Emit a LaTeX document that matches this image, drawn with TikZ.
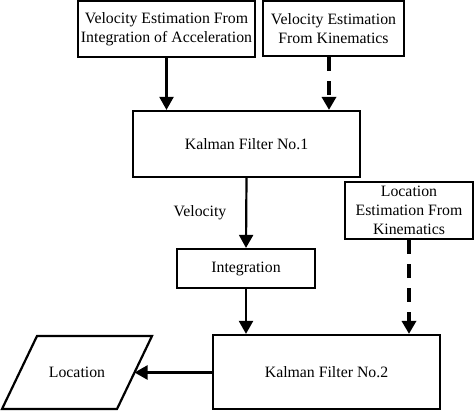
\documentclass[tikz,border=0pt]{standalone}
\usepackage{fontspec}
\setmainfont{Liberation Serif}
\usetikzlibrary{arrows.meta}

\begin{document}
\begin{tikzpicture}[x=1pt,y=-1pt,
		box_style/.style={draw=black,line width=2.2pt,align=center,inner sep=0pt,font=\fontsize{15.8}{19}\selectfont},
		io_style/.style={draw=black,line width=2.2pt,line join=miter},
		edge_style/.style={draw=black,line width=2.2pt,-{Triangle[length=13pt,width=14pt]}},
		dash_style/.style={edge_style,line width=3.5pt,dash pattern=on 14pt off 10pt}]
		
		\useasboundingbox (0,0) rectangle (474,410);
		
		\node[box_style,minimum width=177pt,minimum height=56pt] (vacc) at (166.5,29) {Velocity Estimation From\\Integration of Acceleration};
		\node[box_style,minimum width=141pt,minimum height=55pt] (vkin) at (333.5,28.5) {Velocity Estimation\\From Kinematics};
		\node[box_style,minimum width=227pt,minimum height=66pt] (kf1) at (246.5,144) {Kalman Filter No.1};
		\node[box_style,minimum width=128pt,minimum height=57pt] (lkin) at (409,210.5) {Location\\Estimation From\\Kinematics};
		\node[box_style,minimum width=138pt,minimum height=39pt] (integ) at (246,268.5) {Integration};
		\node[box_style,minimum width=227pt,minimum height=74pt] (kf2) at (326.5,372) {Kalman Filter No.2};
		\node[font=\fontsize{15.8}{19}\selectfont] (loc) at (77,372.5) {Location};
		\node[font=\fontsize{15.8}{19}\selectfont] (vel) at (200,213) {Velocity};
		
		% location output shape
		\draw[io_style] (37,336) -- (152,336) -- (117,409) -- (2,409) -- cycle;
		\coordinate (loc_in) at (134.5,372.5);
		
		\draw[edge_style] (vacc.south) -- (vacc.south |- kf1.north);
		\draw[dash_style] ([xshift=-4.5pt]vkin.south) -- ([xshift=-4.5pt]vkin.south |- kf1.north);
		\draw[edge_style] (kf1.south) -- (integ.north);
		\draw[edge_style] (integ.south) -- (integ.south |- kf2.north);
		\draw[dash_style] (lkin.south) -- (lkin.south |- kf2.north);
		\draw[edge_style] (kf2.west |- loc_in) -- (loc_in);
		
\end{tikzpicture}
\end{document}
